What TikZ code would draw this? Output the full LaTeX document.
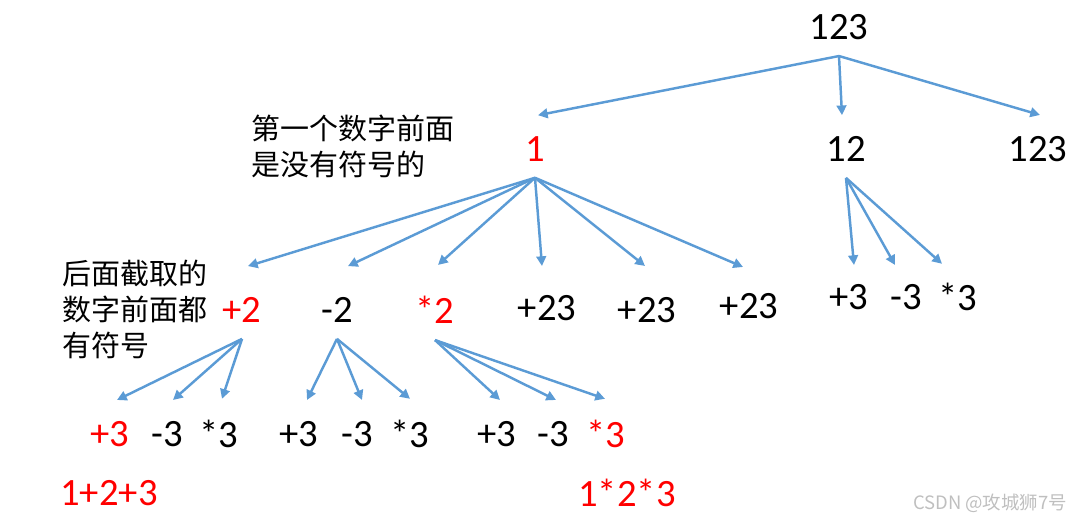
\documentclass[tikz,border=0pt]{standalone}
\usepackage{fontspec}
\setmainfont{Carlito}
\newfontfamily\cjk{Noto Sans CJK SC}
\usepackage{tikz}
\usetikzlibrary{calc}
\usetikzlibrary{arrows.meta}
\definecolor{edgeblue}{RGB}{91,155,213}
\definecolor{markred}{RGB}{255,0,0}
\newcommand{\branch}[4]{\draw[link] ($(#1.south)+(0,16)$) -- ($(#2.north)+(#3,-#4)$);}

\tikzset{
  num/.style={inner sep=0pt, font=\fontsize{22}{26}\selectfont},
  hit/.style={num, text=markred},
  link/.style={draw=edgeblue, line width=1.4pt, -{Triangle[length=5.5pt,width=5.5pt]}},
  note/.style={inner sep=0pt, anchor=west, align=left, font=\cjk\fontsize{16.5}{20.5}\selectfont},
}

\begin{document}
\begin{tikzpicture}[x=0.02cm, y=-0.02cm]
        \useasboundingbox (0,0) rectangle (1080,522);
        % level 0
        \node[num] (root) at (839,27) {123};
        % level 1
        \node[hit] (n1) at (535,149) {1};
        \node[num] (n12) at (846,149) {12};
        \node[num] (n123) at (1038,149) {123};
        % level 2, under 1
        \node[hit] (p2) at (242,310) {+2};
        \node[num] (m2) at (337,310) {-2};
        \node[hit] (t2) at (435,310) {*2};
        \node[num] (pa) at (547,308) {+23};
        \node[num] (pb) at (647,310) {+23};
        \node[num] (pc) at (749,306) {+23};
        % level 2, under 12
        \node[num] (qp) at (849,297) {+3};
        \node[num] (qm) at (906,297) {-3};
        \node[num] (qt) at (958,297) {*3};
        % level 3, under +2
        \node[hit] (pp) at (110,434) {+3};
        \node[num] (pm) at (167,434) {-3};
        \node[num] (pt) at (219,434) {*3};
        % level 3, under -2
        \node[num] (mp) at (299,434) {+3};
        \node[num] (mm) at (357,434) {-3};
        \node[num] (mt) at (410,434) {*3};
        % level 3, under *2
        \node[num] (tp) at (497,434) {+3};
        \node[num] (tm) at (553,434) {-3};
        \node[hit] (tt) at (606,434) {*3};
        % results
        \node[hit] (sum) at (109,493) {1+2+3};
        \node[hit] (prod) at (627,493) {1*2*3};
        % notes
        \node[note] (noteA) at (251,146) {第一个数字前面\\是没有符号的};
        \node[note] (noteB) at (62,309) {后面截取的\\数字前面都\\有符号};

        % arrows
        \branch{root}{n1}{3}{21}
        \branch{root}{n12}{-4}{21}
        \branch{root}{n123}{2}{21}

        \branch{n1}{p2}{6}{31}
        \branch{n1}{m2}{11}{31}
        \branch{n1}{t2}{3}{31}
        \branch{n1}{pa}{-5}{29}
        \branch{n1}{pb}{-2}{31}
        \branch{n1}{pc}{-6}{26}

        \branch{n12}{qp}{5}{19}
        \branch{n12}{qm}{-11}{19}
        \branch{n12}{qt}{-16}{19}

        \branch{p2}{pp}{7}{21}
        \branch{p2}{pm}{6}{21}
        \branch{p2}{pt}{3}{21}

        \branch{m2}{mp}{8}{21}
        \branch{m2}{mm}{5}{21}
        \branch{m2}{mt}{0}{21}

        \branch{t2}{tp}{3}{21}
        \branch{t2}{tm}{3}{21}
        \branch{t2}{tt}{-1}{21}

        % watermark
        \node[font=\cjk\fontsize{10.5}{12}\selectfont, text=black!25] (mark) at (990,503) {CSDN @攻城狮7号};
\end{tikzpicture}
\end{document}
